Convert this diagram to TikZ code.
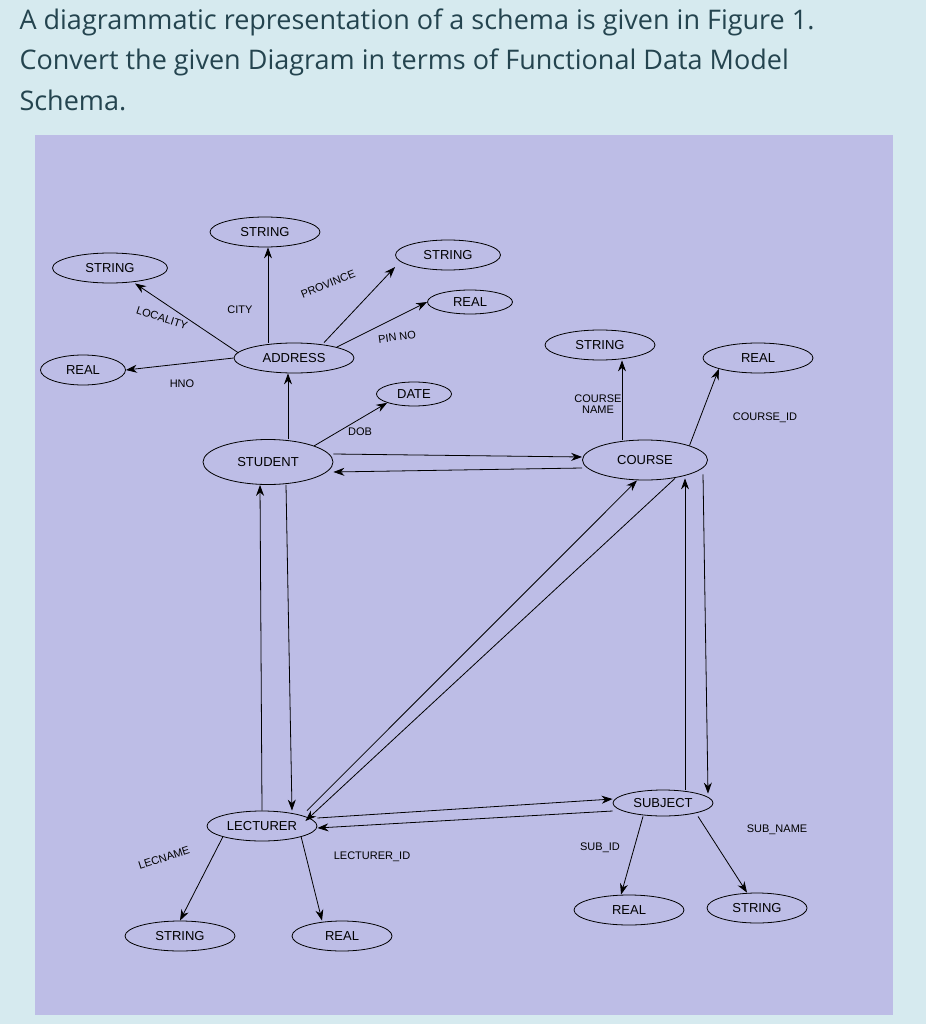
\documentclass[tikz,border=0pt]{standalone}
\usepackage{fontspec}
\setmainfont{Open Sans}
\newfontfamily\hand{Liberation Sans}
\usetikzlibrary{shapes.geometric,arrows.meta}
\definecolor{bg}{HTML}{D6EAEF}
\definecolor{paper}{HTML}{BDBDE6}
\definecolor{head}{HTML}{24444F}
\begin{document}
\begin{tikzpicture}[x=1pt,y=-1pt,
  ent/.style={ellipse,draw=black,line width=0.8pt,inner sep=0pt,minimum height=30pt,font=\hand\fontsize{13}{13}\selectfont},
  lab/.style={font=\hand\fontsize{11}{11}\selectfont},
  arr/.style={draw=black,line width=0.8pt,-{Stealth[length=11pt,width=8pt]}}]
\fill[bg] (0,0) rectangle (926,1024);
\useasboundingbox (0,0) rectangle (926,1024);
\fill[paper] (35,135) rectangle (893,1015);
\node[anchor=west,text=head,font=\fontsize{27}{27}\selectfont] (h1) at (16,22) {A diagrammatic representation of a schema is given in Figure 1.};
\node[anchor=west,text=head,font=\fontsize{27}{27}\selectfont] (h2) at (16,62) {Convert the given Diagram in terms of Functional Data Model};
\node[anchor=west,text=head,font=\fontsize{27}{27}\selectfont] (h3) at (16,100) {Schema.};

\node[ent,minimum width=110pt] (strT) at (265,232) {STRING};
\node[ent,minimum width=115pt] (strL) at (110,268) {STRING};
\node[ent,minimum width=105pt] (strS) at (448,255) {STRING};
\node[ent,minimum width=85pt,minimum height=24pt] (realM) at (470,302) {REAL};
\node[ent,minimum width=85pt] (realL) at (83,370) {REAL};
\node[ent,minimum width=120pt] (address) at (294,358) {ADDRESS};
\node[ent,minimum width=75pt,minimum height=24pt] (date) at (414,394) {DATE};
\node[ent,minimum width=130pt,minimum height=45pt] (student) at (268,462) {STUDENT};
\node[ent,minimum width=110pt] (strC) at (600,345) {STRING};
\node[ent,minimum width=110pt] (realC) at (758,358) {REAL};
\node[ent,minimum width=125pt,minimum height=40pt] (course) at (645,460) {COURSE};
\node[ent,minimum width=110pt] (lect) at (262,826) {LECTURER};
\node[ent,minimum width=100pt,minimum height=26pt] (subj) at (663,803) {SUBJECT};
\node[ent,minimum width=110pt] (realS) at (629,910) {REAL};
\node[ent,minimum width=100pt] (strS2) at (757,908) {STRING};
\node[ent,minimum width=110pt] (strB) at (180,936) {STRING};
\node[ent,minimum width=100pt] (realB) at (342,936) {REAL};

\draw[arr] ([xshift=5pt,yshift=5pt]address.west) -- ([xshift=25pt]strL.south);
\draw[arr] (address.west) -- (realL.east);
\draw[arr] ([xshift=-26pt]address.north) -- ([xshift=3pt]strT.south);
\draw[arr] ([xshift=30pt]address.north) -- ([yshift=-12pt]strS.west);
\draw[arr] (address.north east) -- (realM.west);
\draw[arr] ([xshift=20pt]student.north) -- ([xshift=-6pt]address.south);
\draw[arr] (student.north east) -- (date.south west);
\draw[arr] ([yshift=8pt]student.east) -- ([yshift=3pt]course.west);
\draw[arr] ([yshift=-8pt]course.west) -- ([yshift=-10pt]student.east);
\draw[arr] ([xshift=-23pt]course.north) -- ([xshift=22pt]strC.south);
\draw[arr] (course.north east) -- (realC.south west);
\draw[arr] ([xshift=18pt]student.south) -- ([xshift=30pt]lect.north);
\draw[arr] (lect.north) -- ([xshift=-8pt]student.south);
\draw[arr] ([xshift=45pt]lect.north) -- ([xshift=-8pt]course.south);
\draw[arr] ([xshift=30pt,yshift=2pt]course.south) -- ([xshift=-12pt,yshift=5pt]lect.east);
\draw[arr] ([xshift=22pt]subj.north) -- ([xshift=40pt,yshift=2pt]course.south);
\draw[arr] ([xshift=58pt,yshift=6pt]course.south) -- ([xshift=45pt,yshift=-4pt]subj.north);
\draw[arr] ([yshift=8pt]lect.east) -- ([yshift=4pt]subj.west);
\draw[arr] ([yshift=-8pt]subj.west) -- ([yshift=-2pt]lect.east);
\draw[arr] (lect.south west) -- (strB.north);
\draw[arr] (lect.south east) -- ([xshift=-20pt]realB.north);
\draw[arr] ([xshift=-20pt]subj.south) -- ([xshift=-8pt]realS.north);
\draw[arr] ([xshift=35pt]subj.south) -- ([xshift=-10pt]strS2.north);

\node[lab,rotate=-18] (lLoc) at (162,318) {LOCALITY};
\node[lab] (lHno) at (182,384) {HNO};
\node[lab] (lCity) at (240,310) {CITY};
\node[lab,rotate=22] (lProv) at (328,284) {PROVINCE};
\node[lab,rotate=8] (lPin) at (397,337) {PIN NO};
\node[lab] (lDob) at (360,432) {DOB};
\node[lab,align=center] (lCn) at (598,404) {COURSE\\NAME};
\node[lab] (lCid) at (765,418) {COURSE\_ID};
\node[lab,rotate=18] (lLn) at (164,858) {LECNAME};
\node[lab] (lLid) at (372,857) {LECTURER\_ID};
\node[lab] (lSid) at (600,848) {SUB\_ID};
\node[lab] (lSn) at (777,830) {SUB\_NAME};
\end{tikzpicture}
\end{document}
